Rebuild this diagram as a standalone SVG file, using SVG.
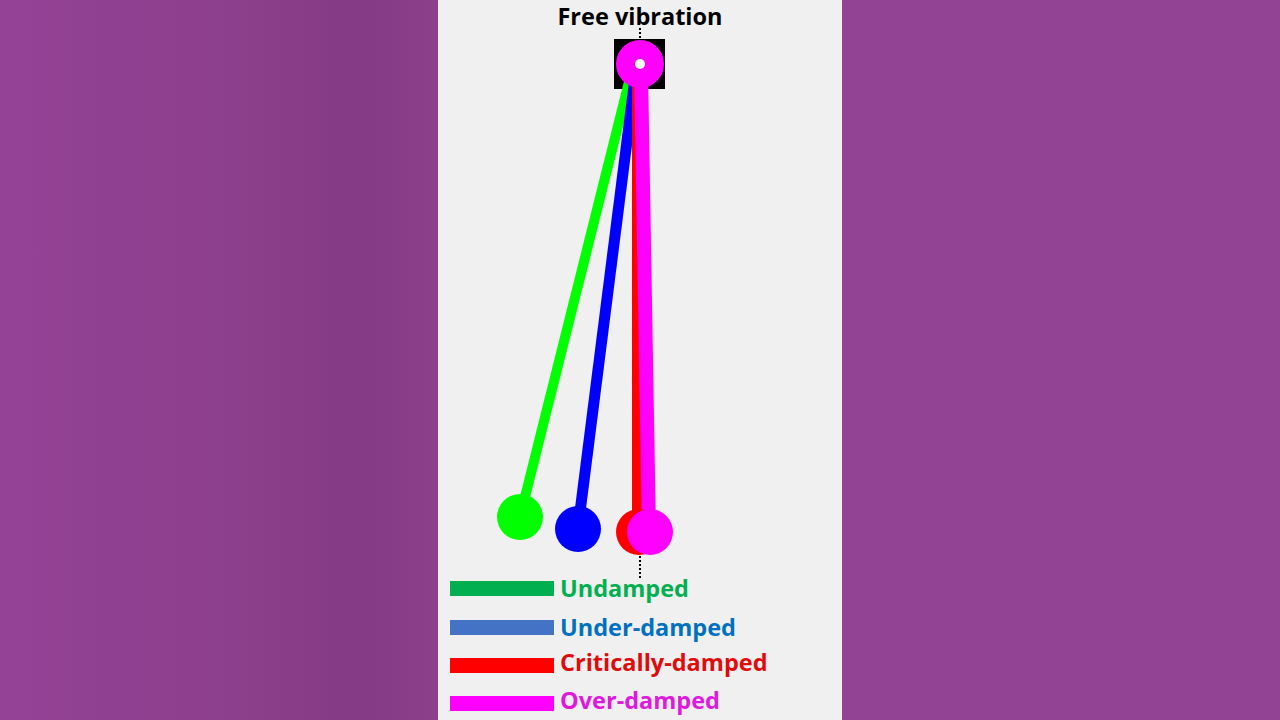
<svg xmlns="http://www.w3.org/2000/svg" width="1280" height="720" viewBox="0 0 1280 720">
<defs>
<linearGradient id="bgL" x1="0" y1="0" x2="1" y2="0">
<stop offset="0" stop-color="#944296"/>
<stop offset="0.55" stop-color="#8c3f8c"/>
<stop offset="0.8" stop-color="#853b84"/>
<stop offset="1" stop-color="#8b3f8b"/>
</linearGradient>
<style>
.t{font-family:"Open Sans","Liberation Sans",sans-serif;font-weight:bold;font-size:23.5px}
.dot{stroke:#000;stroke-width:2;stroke-dasharray:2 2}
.rod{stroke-linecap:butt}
</style>
</defs>
<rect width="1280" height="720" fill="#934394"/>
<rect x="0" width="438" height="720" fill="url(#bgL)"/>
<rect x="438" width="404" height="720" fill="#f0f0f0"/>
<g id="title"><text class="t" x="640" y="25" text-anchor="middle" fill="#000" style="font-size:23.5px">Free vibration</text></g>
<g id="pivot">
<line class="dot" x1="640" y1="28" x2="640" y2="40"/>
<rect x="614" y="39" width="51" height="50" fill="#000"/>
</g>
<g id="connectors">
<line class="rod" x1="632" y1="70" x2="520" y2="517" stroke="#00ff00" stroke-width="10"/>
<line class="rod" x1="636" y1="70" x2="578" y2="528" stroke="#0000ff" stroke-width="11"/>
<line class="rod" x1="638" y1="70" x2="638" y2="530" stroke="#ff0000" stroke-width="12"/>
<line class="rod" x1="641" y1="70" x2="649" y2="532" stroke="#ff00ff" stroke-width="14"/>
</g>
<g id="hub">
<circle cx="640" cy="64" r="24" fill="#ff00ff"/>
<circle cx="640" cy="64" r="5" fill="#fff"/>
</g>
<g id="bob-undamped"><circle cx="520" cy="517" r="23" fill="#00ff00"/></g>
<g id="bob-underdamped"><circle cx="578" cy="529" r="23" fill="#0000ff"/></g>
<g id="bob-critical"><circle cx="639" cy="532" r="23" fill="#ff0000"/></g>
<g id="bob-overdamped"><circle cx="650" cy="532" r="23" fill="#ff00ff"/></g>
<line class="dot" x1="640" y1="556" x2="640" y2="580"/>
<g id="legend">
<rect x="450" y="581" width="104" height="15" fill="#00b050"/>
<text class="t" x="560" y="597" fill="#00b050">Undamped</text>
<rect x="450" y="620" width="104" height="15" fill="#4472c4"/>
<text class="t" x="560" y="636" fill="#0070c0">Under-damped</text>
<rect x="450" y="658" width="104" height="15" fill="#ff0000"/>
<text class="t" x="560" y="671" fill="#e00b0b">Critically-damped</text>
<rect x="450" y="696" width="104" height="15" fill="#ff00ff"/>
<text class="t" x="560" y="709" fill="#dd1add">Over-damped</text>
</g>
</svg>
